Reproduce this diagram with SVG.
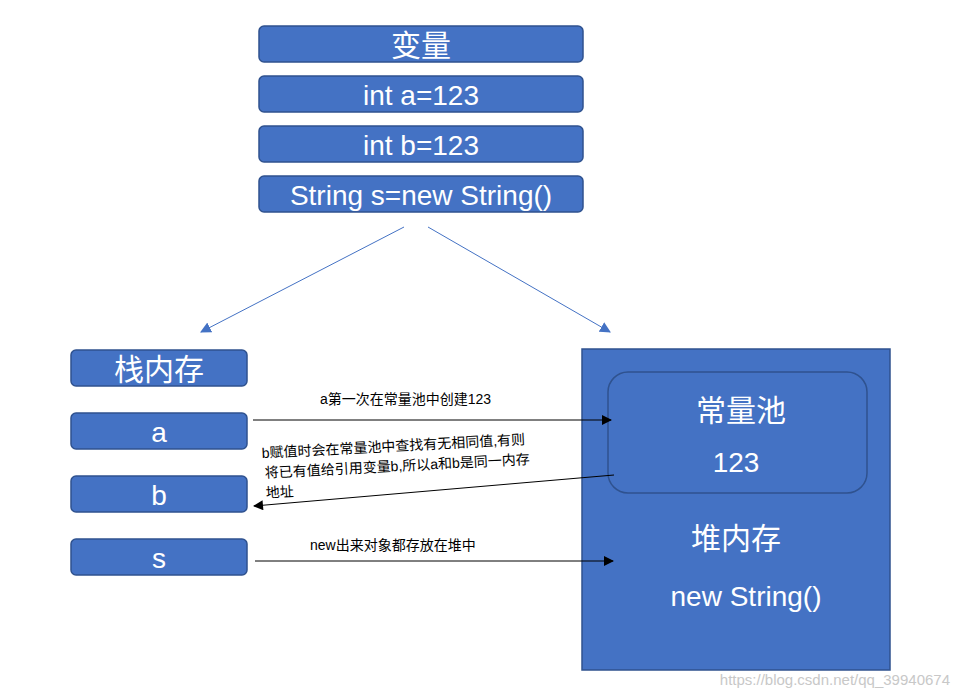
<svg xmlns="http://www.w3.org/2000/svg" width="959" height="698" viewBox="0 0 959 698">
<defs>
<style>
.box{fill:#4472C4;stroke:#2F528F;stroke-width:1.5}
.t{font-family:"Liberation Sans","Noto Sans CJK SC",sans-serif;fill:#fff;text-anchor:middle}
.l{font-family:"Liberation Sans","Noto Sans CJK SC",sans-serif;fill:#000;font-size:14px}
.blue{stroke:#4472C4;stroke-width:1;fill:none}
.blk{stroke:#000;stroke-width:1;fill:none}
</style>
<marker id="ab" viewBox="0 0 10 10" refX="9" refY="5" markerWidth="11" markerHeight="11" markerUnits="userSpaceOnUse" orient="auto"><path d="M0,0L10,5L0,10z" fill="#4472C4"/></marker>
<marker id="ak" viewBox="0 0 10 10" refX="9" refY="5" markerWidth="12" markerHeight="10" markerUnits="userSpaceOnUse" orient="auto"><path d="M0,0L10,5L0,10z" fill="#000"/></marker>
</defs>
<rect width="959" height="698" fill="#fff"/>
<g id="var"><rect class="box" x="259" y="26" width="324" height="36" rx="5"/><text class="t" x="421" y="56" font-size="30">变量</text></g>
<g id="inta"><rect class="box" x="259" y="76" width="324" height="36" rx="5"/><text class="t" x="421" y="105" font-size="28">int a=123</text></g>
<g id="intb"><rect class="box" x="259" y="126" width="324" height="36" rx="5"/><text class="t" x="421" y="155" font-size="28">int b=123</text></g>
<g id="str"><rect class="box" x="259" y="176" width="324" height="36" rx="5"/><text class="t" x="421" y="205" font-size="28">String s=new String()</text></g>
<g id="stack"><rect class="box" x="71" y="350" width="176" height="36" rx="5"/><text class="t" x="159" y="380" font-size="30">栈内存</text></g>
<g id="a"><rect class="box" x="71" y="413" width="176" height="36" rx="5"/><text class="t" x="159" y="442" font-size="28">a</text></g>
<g id="b"><rect class="box" x="71" y="476" width="176" height="36" rx="5"/><text class="t" x="159" y="505" font-size="28">b</text></g>
<g id="s"><rect class="box" x="71" y="539" width="176" height="36" rx="5"/><text class="t" x="159" y="568" font-size="28">s</text></g>
<g id="heap"><rect class="box" x="582" y="349" width="308" height="321"/><text class="t" x="736" y="549" font-size="30">堆内存</text><text class="t" x="746" y="606" font-size="28">new String()</text></g>
<g id="pool"><rect class="box" x="608" y="372" width="259" height="121" rx="20"/><text class="t" x="741" y="421" font-size="30">常量池</text><text class="t" x="736" y="472" font-size="28">123</text></g>
<g id="connectors">
<line class="blue" x1="404" y1="227" x2="201" y2="332" marker-end="url(#ab)"/>
<line class="blue" x1="428" y1="227" x2="610" y2="332" marker-end="url(#ab)"/>
<line class="blk" x1="253" y1="420" x2="611" y2="420" marker-end="url(#ak)"/>
<line class="blk" x1="614" y1="475" x2="254" y2="506" marker-end="url(#ak)"/>
<line class="blk" x1="255" y1="561" x2="613" y2="561" marker-end="url(#ak)"/>
<text class="l" x="320" y="404">a第一次在常量池中创建123</text>
<g transform="rotate(-3 262 458)"><text class="l" x="262" y="458">b赋值时会在常量池中查找有无相同值,有则</text><text class="l" x="264" y="478">将已有值给引用变量b,所以a和b是同一内存</text><text class="l" x="264" y="498">地址</text></g>
<text class="l" x="310" y="550">new出来对象都存放在堆中</text>
</g>
<text x="950" y="685" font-family="Liberation Sans,sans-serif" font-size="15" fill="#c8c8c8" text-anchor="end">https://blog.csdn.net/qq_39940674</text>
</svg>
